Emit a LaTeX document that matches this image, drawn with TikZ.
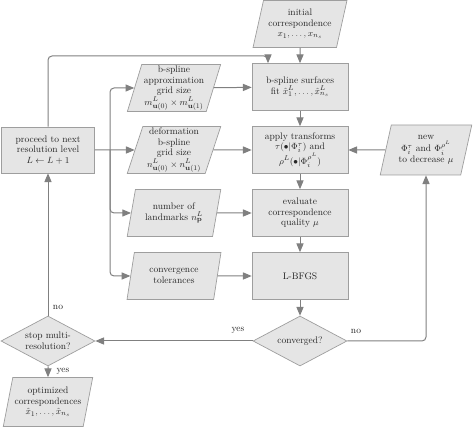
\documentclass[tikz,border=0pt]{standalone}
\usepackage{amsmath,amssymb}
\usetikzlibrary{calc, positioning, shapes, arrows}
\definecolor{boxfill}{gray}{0.9}
\definecolor{boxline}{gray}{0.62}
\definecolor{flowline}{gray}{0.5}
\tikzstyle{every node}=[text=black!85, font=\fontsize{9.5}{10.5}\selectfont]
\tikzstyle{process}=[rectangle, draw=boxline, fill=boxfill, line width=0.7pt, minimum width=96pt, minimum height=47pt, align=center, inner sep=1pt]
\tikzstyle{io}=[trapezium, trapezium left angle=73, trapezium right angle=107, trapezium stretches=true, draw=boxline, fill=boxfill, line width=0.7pt, minimum width=94pt, minimum height=47pt, align=center, inner sep=0pt]
\tikzstyle{decision}=[diamond, aspect=1.86, draw=boxline, fill=boxfill, line width=0.7pt, minimum width=94pt, minimum height=50pt, align=center, inner sep=-4pt]
\tikzstyle{flow}=[->, >=triangle 45, line width=1pt, draw=flowline]

\begin{document}
\begin{tikzpicture}[x=1pt,y=-1pt]
	\useasboundingbox (0,0) rectangle (474,427);

	%main column
	\node[io] (init) at (300,24) {initial\\correspondence\\$x_1,\ldots,x_{n_s}$};
	\node[process] (fit) at (300,87) {b-spline surfaces\\fit $\hat{x}^L_1,\ldots,\hat{x}^L_{n_s}$};
	\node[process] (apply) at (300,150) {apply transforms\\$\tau(\bullet|\Phi^{\tau}_i)$ and\\$\rho^L(\bullet|\Phi^{\rho^L}_i)$};
	\node[process] (eval) at (300,213) {evaluate\\correspondence\\quality $\mu$};
	\node[process] (lbfgs) at (300,276) {L-BFGS};
	\node[decision] (conv) at (300,341) {converged?};

	%parameters
	\node[io] (gridm) at (174,88) {b-spline\\approximation\\grid size\\$m^L_{\mathbf{u}(0)}\times m^L_{\mathbf{u}(1)}$};
	\node[io] (gridn) at (174,150) {deformation\\b-spline\\grid size\\$n^L_{\mathbf{u}(0)}\times n^L_{\mathbf{u}(1)}$};
	\node[io] (lmk) at (174,213) {number of\\landmarks $n^L_{\mathbf{p}}$};
	\node[io] (tol) at (174,276) {convergence\\tolerances};

	%outer loop
	\node[process, minimum width=93pt, minimum height=46pt] (proceed) at (48,150) {proceed to next\\resolution level\\$L\leftarrow L+1$};
	\node[decision] (stop) at (48,341) {stop multi-\\resolution?};
	\node[io, minimum width=90pt, minimum height=49pt] (opt) at (48,402) {optimized\\correspondences\\$\hat{x}_1,\ldots,\hat{x}_{n_s}$};
	\node[io, minimum width=92pt, minimum height=50pt] (newphi) at (426,150) {new\\$\Phi^{\tau}_i$ and $\Phi^{\rho^L}_i$\\to decrease $\mu$};

	\coordinate (topturn) at (268,56);
	\coordinate (branch) at (110,150);

	%connectors
	\draw[flow] (init) -- (fit);
	\draw[flow] (fit) -- (apply);
	\draw[flow] (apply) -- (eval);
	\draw[flow] (eval) -- (lbfgs);
	\draw[flow] (lbfgs) -- (conv);
	\draw[flow] (gridm) -- (fit);
	\draw[flow] (gridn) -- (apply);
	\draw[flow] (lmk) -- (eval);
	\draw[flow] (tol) -- (lbfgs);
	\draw[flow] (newphi) -- (apply);

	\draw[flow, rounded corners=4pt] (proceed.north) |- (topturn) -- (topturn |- fit.north);
	\draw[flow] (proceed.east) -- (gridn.west);
	\draw[flow, rounded corners=4pt] (branch) |- (gridm.west);
	\draw[flow, rounded corners=4pt] (branch) |- (lmk.west);
	\draw[flow, rounded corners=4pt] (branch) |- (tol.west);

	\draw[flow, rounded corners=4pt] (conv.east) -| (newphi.south);
	\node at (356,331) {no};
	\draw[flow] (conv.west) -- (stop.east);
	\node at (238,330) {yes};
	\draw[flow] (stop.north) -- (proceed.south);
	\node at (58,307) {no};
	\draw[flow] (stop.south) -- (opt.north);
	\node at (63,371) {yes};

\end{tikzpicture}
\end{document}
